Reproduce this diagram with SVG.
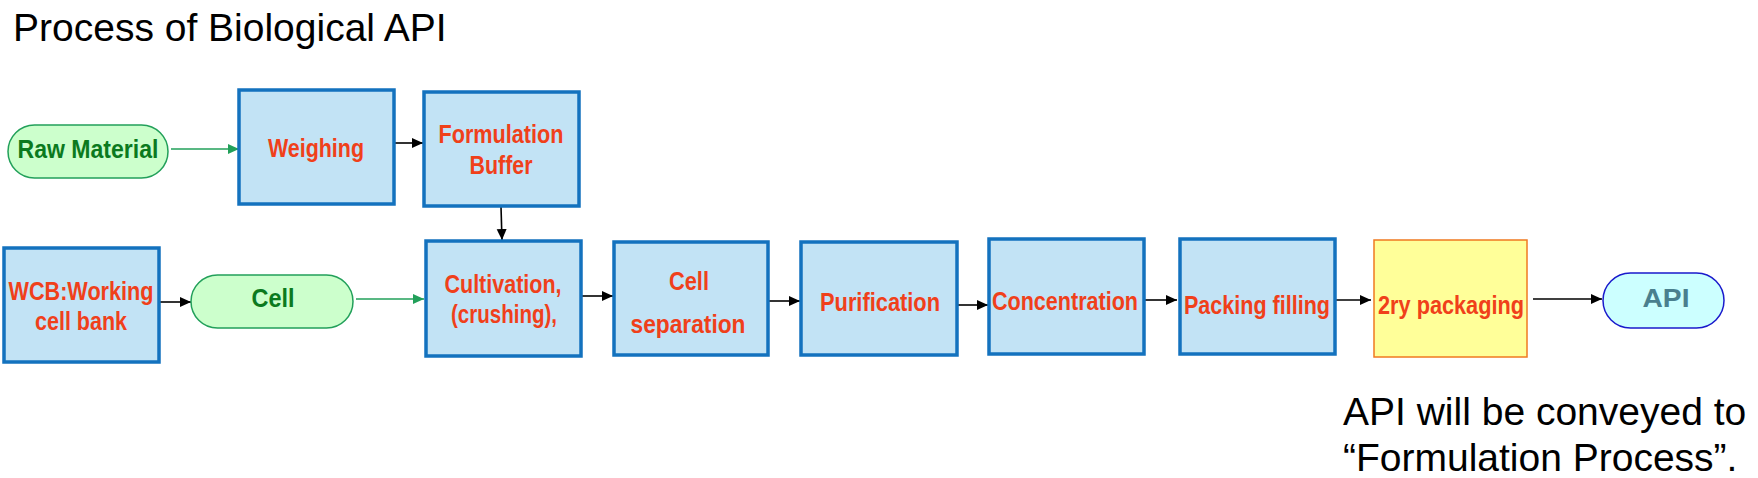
<svg xmlns="http://www.w3.org/2000/svg" width="1758" height="478" viewBox="0 0 1758 478">
<style>
.box{fill:#C2E3F5;stroke:#1372BE;stroke-width:3.5}
.pillg{fill:#CCFFCC;stroke:#22A05A;stroke-width:1.5}
.pillb{fill:#CCFFFF;stroke:#1A1ACC;stroke-width:1.5}
.yel{fill:#FFFF99;stroke:#F07A20;stroke-width:1.5}
.t{font-family:"Liberation Sans",Arial,sans-serif;font-weight:bold;font-size:25px;fill:#F0401A;text-anchor:middle}
.tg{font-family:"Liberation Sans",Arial,sans-serif;font-weight:bold;font-size:25px;fill:#0B7A1E;text-anchor:middle}
.ta{font-family:"Liberation Sans",Arial,sans-serif;font-weight:bold;font-size:25px;fill:#4A7F8E;text-anchor:middle}
.big{font-family:"Liberation Sans",Arial,sans-serif;font-size:39px;fill:#000}
.ck{stroke:#000;stroke-width:1.6;fill:none}
.cg{stroke:#22A05A;stroke-width:1.6;fill:none}
</style>
<defs>
<marker id="ak" markerUnits="userSpaceOnUse" markerWidth="12" markerHeight="12" refX="11" refY="6" orient="auto"><path d="M0,1 L11,6 L0,11 Z" fill="#000"/></marker>
<marker id="ag" markerUnits="userSpaceOnUse" markerWidth="12" markerHeight="12" refX="11" refY="6" orient="auto"><path d="M0,1 L11,6 L0,11 Z" fill="#22A05A"/></marker>
</defs>
<text class="big" x="13" y="41">Process of Biological API</text>
<g id="connectors">
<line class="cg" x1="171" y1="149" x2="239" y2="149" marker-end="url(#ag)"/>
<line class="ck" x1="394" y1="143" x2="423" y2="143" marker-end="url(#ak)"/>
<line class="ck" x1="501" y1="207" x2="502" y2="240" marker-end="url(#ak)"/>
<line class="ck" x1="160" y1="302" x2="191" y2="302" marker-end="url(#ak)"/>
<line class="cg" x1="356" y1="299" x2="424" y2="299" marker-end="url(#ag)"/>
<line class="ck" x1="582" y1="296" x2="613" y2="296" marker-end="url(#ak)"/>
<line class="ck" x1="769" y1="301" x2="800" y2="301" marker-end="url(#ak)"/>
<line class="ck" x1="958" y1="305" x2="988" y2="305" marker-end="url(#ak)"/>
<line class="ck" x1="1145" y1="300" x2="1177" y2="300" marker-end="url(#ak)"/>
<line class="ck" x1="1336" y1="300" x2="1371" y2="300" marker-end="url(#ak)"/>
<line class="ck" x1="1533" y1="299" x2="1602" y2="299" marker-end="url(#ak)"/>
</g>
<g id="raw-material"><rect class="pillg" x="8" y="125" width="160" height="53" rx="26.5"/><text class="tg" x="88" y="158" textLength="141" lengthAdjust="spacingAndGlyphs">Raw Material</text></g>
<g id="weighing"><rect class="box" x="239" y="90" width="155" height="114"/><text class="t" x="316" y="157" textLength="96" lengthAdjust="spacingAndGlyphs">Weighing</text></g>
<g id="formulation-buffer"><rect class="box" x="424" y="92" width="155" height="114"/><text class="t" x="501" y="143" textLength="125" lengthAdjust="spacingAndGlyphs">Formulation</text><text class="t" x="501" y="174" textLength="63" lengthAdjust="spacingAndGlyphs">Buffer</text></g>
<g id="wcb"><rect class="box" x="4" y="248" width="155" height="114"/><text class="t" x="81" y="300" textLength="145" lengthAdjust="spacingAndGlyphs">WCB:Working</text><text class="t" x="81" y="330" textLength="92" lengthAdjust="spacingAndGlyphs">cell bank</text></g>
<g id="cell"><rect class="pillg" x="191" y="275" width="162" height="53" rx="26.5"/><text class="tg" x="273" y="307" textLength="43" lengthAdjust="spacingAndGlyphs">Cell</text></g>
<g id="cultivation"><rect class="box" x="426" y="241" width="155" height="115"/><text class="t" x="503" y="293" textLength="117" lengthAdjust="spacingAndGlyphs">Cultivation,</text><text class="t" x="504" y="323" textLength="106" lengthAdjust="spacingAndGlyphs">(crushing),</text></g>
<g id="cell-separation"><rect class="box" x="614" y="242" width="154" height="113"/><text class="t" x="689" y="290" textLength="40" lengthAdjust="spacingAndGlyphs">Cell</text><text class="t" x="688" y="333" textLength="115" lengthAdjust="spacingAndGlyphs">separation</text></g>
<g id="purification"><rect class="box" x="801" y="242" width="156" height="113"/><text class="t" x="880" y="311" textLength="120" lengthAdjust="spacingAndGlyphs">Purification</text></g>
<g id="concentration"><rect class="box" x="989" y="239" width="155" height="115"/><text class="t" x="1065" y="310" textLength="146" lengthAdjust="spacingAndGlyphs">Concentration</text></g>
<g id="packing-filling"><rect class="box" x="1180" y="239" width="155" height="115"/><text class="t" x="1257" y="314" textLength="146" lengthAdjust="spacingAndGlyphs">Packing filling</text></g>
<g id="secondary-packaging"><rect class="yel" x="1374" y="240" width="153" height="117"/><text class="t" x="1451" y="314" textLength="146" lengthAdjust="spacingAndGlyphs">2ry packaging</text></g>
<g id="api"><rect class="pillb" x="1603" y="273" width="121" height="55" rx="27.5"/><text class="ta" x="1666" y="307" textLength="47" lengthAdjust="spacingAndGlyphs">API</text></g>
<text class="big" x="1343" y="425">API will be conveyed to</text>
<text class="big" x="1343" y="471">“Formulation Process”.</text>
</svg>
